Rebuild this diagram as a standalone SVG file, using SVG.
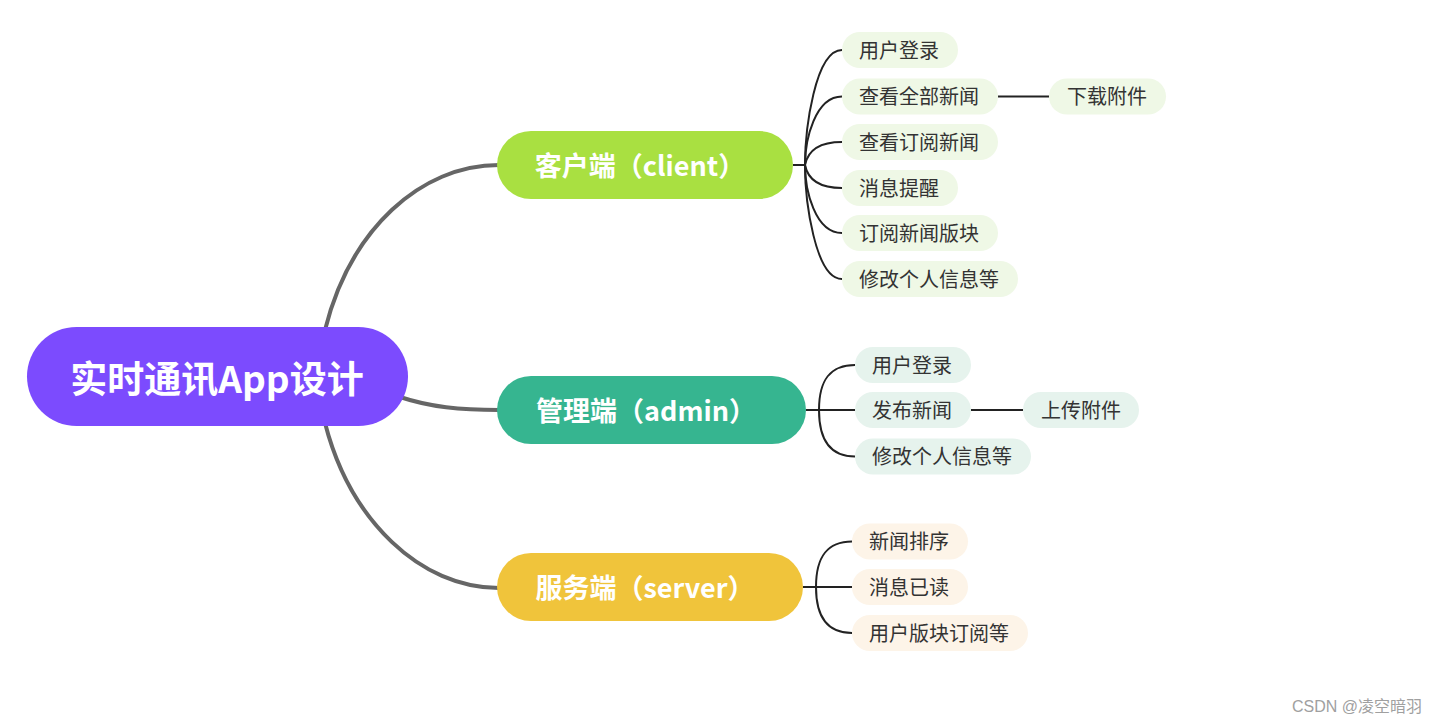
<svg xmlns="http://www.w3.org/2000/svg" width="1437" height="725" viewBox="0 0 1437 725">
<style>
.main{fill:none;stroke:#666666;stroke-width:4;stroke-linecap:round}
.sub{fill:none;stroke:#222222;stroke-width:2}
.t0{font-family:"Noto Sans CJK SC","Noto Sans",sans-serif;font-weight:bold;fill:#ffffff;text-anchor:middle;dominant-baseline:central}
.t2{font-family:"Noto Sans CJK SC","Noto Sans",sans-serif;font-size:20px;fill:#333333;dominant-baseline:central}
.pg{fill:#eff8e6}
.pt{fill:#e6f3ed}
.py{fill:#fdf4e8}
</style>
<rect width="1437" height="725" fill="#ffffff"/>
<g id="connectors">
<path class="main" d="M325,330 C350,230 420,165 499,165"/>
<path class="main" d="M400,397 C430,407 460,410 499,410"/>
<path class="main" d="M325,423 C350,520 420,588 499,588"/>
<path class="sub" d="M793,165 H805"/>
<path class="sub" d="M805,165 C805,130 815,50 842,50"/>
<path class="sub" d="M805,165 C805,140 815,96.5 842,96.5"/>
<path class="sub" d="M805,165 C808,150 820,142 842,142"/>
<path class="sub" d="M805,165 C808,180 820,188 842,188"/>
<path class="sub" d="M805,165 C805,190 815,233 842,233"/>
<path class="sub" d="M805,165 C805,200 815,279 842,279"/>
<path class="sub" d="M998,96.5 H1049"/>
<path class="sub" d="M806,410 H855"/>
<path class="sub" d="M819,410 C819,380 830,365 855,365"/>
<path class="sub" d="M819,410 C819,440 830,456.5 855,456.5"/>
<path class="sub" d="M971,410 H1023"/>
<path class="sub" d="M803,587 H852"/>
<path class="sub" d="M816,587 C816,557 827,541.5 852,541.5"/>
<path class="sub" d="M816,587 C816,617 827,633 852,633"/>
</g>
<g id="root">
<rect x="27" y="327" width="381" height="99" rx="49.5" fill="#7c4bfe"/>
<text class="t0" x="217" y="377" font-size="37">实时通讯App设计</text>
</g>
<g id="client">
<rect x="497" y="131" width="296" height="68" rx="34" fill="#a9e041"/>
<text class="t0" x="640" y="164.5" font-size="27">客户端（client）</text>
</g>
<g id="admin">
<rect x="497" y="376" width="309" height="68" rx="34" fill="#36b590"/>
<text class="t0" x="646" y="409.5" font-size="27">管理端（admin）</text>
</g>
<g id="server">
<rect x="497" y="553" width="306" height="68" rx="34" fill="#f0c43b"/>
<text class="t0" x="645" y="586.5" font-size="27">服务端（server）</text>
</g>
<g id="c1"><rect class="pg" x="842" y="32" width="116" height="36" rx="18"/><text class="t2" x="859" y="49">用户登录</text></g>
<g id="c2"><rect class="pg" x="842" y="78.5" width="156" height="36" rx="18"/><text class="t2" x="859" y="95.5">查看全部新闻</text></g>
<g id="c2a"><rect class="pg" x="1049" y="78.5" width="117" height="36" rx="18"/><text class="t2" x="1067" y="95.5">下载附件</text></g>
<g id="c3"><rect class="pg" x="842" y="124" width="156" height="36" rx="18"/><text class="t2" x="859" y="141">查看订阅新闻</text></g>
<g id="c4"><rect class="pg" x="842" y="170" width="116" height="36" rx="18"/><text class="t2" x="859" y="187">消息提醒</text></g>
<g id="c5"><rect class="pg" x="842" y="215" width="156" height="36" rx="18"/><text class="t2" x="859" y="232">订阅新闻版块</text></g>
<g id="c6"><rect class="pg" x="842" y="261" width="176" height="36" rx="18"/><text class="t2" x="859" y="278">修改个人信息等</text></g>
<g id="a1"><rect class="pt" x="855" y="347" width="116" height="36" rx="18"/><text class="t2" x="872" y="364">用户登录</text></g>
<g id="a2"><rect class="pt" x="855" y="392" width="116" height="36" rx="18"/><text class="t2" x="872" y="409">发布新闻</text></g>
<g id="a2a"><rect class="pt" x="1023" y="392" width="116" height="36" rx="18"/><text class="t2" x="1041" y="409">上传附件</text></g>
<g id="a3"><rect class="pt" x="855" y="438.5" width="176" height="36" rx="18"/><text class="t2" x="872" y="455.5">修改个人信息等</text></g>
<g id="s1"><rect class="py" x="852" y="523.5" width="116" height="36" rx="18"/><text class="t2" x="869" y="540.5">新闻排序</text></g>
<g id="s2"><rect class="py" x="852" y="569" width="116" height="36" rx="18"/><text class="t2" x="869" y="586">消息已读</text></g>
<g id="s3"><rect class="py" x="852" y="615" width="176" height="36" rx="18"/><text class="t2" x="869" y="632">用户版块订阅等</text></g>
<text x="1422" y="712" font-family="'Liberation Sans','Noto Sans CJK SC',sans-serif" font-size="16" fill="#a0a0a0" text-anchor="end">CSDN @凌空暗羽</text>
</svg>
